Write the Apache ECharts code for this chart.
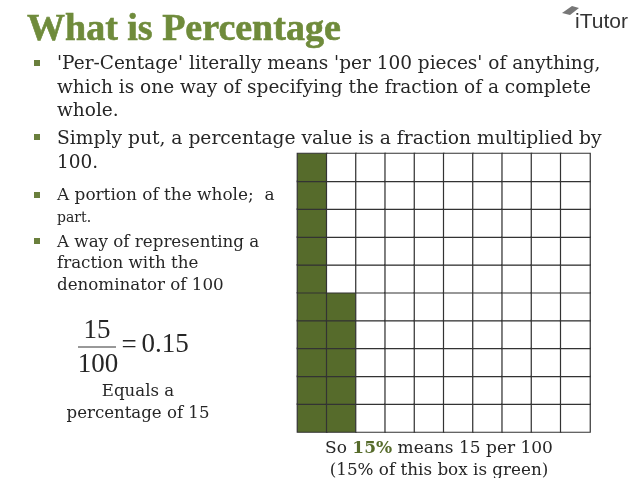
<!DOCTYPE html>
<html>
<head>
	<meta charset="UTF-8">
	<title>What is Percentage</title>
	<script src="https://cdn.jsdelivr.net/npm/echarts@6/dist/echarts.min.js"></script>
	<style>html,body{margin:0;padding:0;background:#fff}</style>
</head>
<body>
	<div id="main" style="width:638px;height:478px;"></div>
	<script type="text/javascript">
		var columns = ['1', '2', '3', '4', '5', '6', '7', '8', '9', '10'];
		var rows = ['1', '2', '3', '4', '5', '6', '7', '8', '9', '10'];
		// how many cells are green in each column, counted from the bottom
		var greenPerColumn = [10, 5, 0, 0, 0, 0, 0, 0, 0, 0];

		var titleText = 'What is Percentage';
		var logoText = 'iTutor';
		var bodyLines = [
			"'Per-Centage' literally means 'per 100 pieces' of anything,",
			'which is one way of specifying the fraction of a complete',
			'whole.',
			'Simply put, a percentage value is a fraction multiplied by',
			'100.'
		];
		var sideLines = ['A portion of the whole;  a', 'part.', 'A way of representing a', 'fraction with the', 'denominator of 100'];
		var equationParts = ['15', '100', '=', '0.15'];
		var equationCaption = ['Equals a', 'percentage of 15'];
		var boxCaption = ['So {b|15%} means 15 per 100', '(15% of this box is green)'];

		var cells = [];
		columns.forEach(function (c, i) {
			rows.forEach(function (r, j) {
				cells.push([i, j, j < greenPerColumn[i] ? 1 : 0]);
			});
		});

		var serif = '"DejaVu Serif"';
		var green = '#566b2b';

		function label(x, y, text, size, extra) {
			var style = { x: x, y: y, text: text, fill: '#262626', font: size + 'px ' + serif, textVerticalAlign: 'middle' };
			for (var k in (extra || {})) style[k] = extra[k];
			return { type: 'text', style: style };
		}
		function bullet(x, y) {
			return { type: 'rect', shape: { x: x, y: y, width: 6, height: 6 }, style: { fill: '#6a7f3c' } };
		}

		var elements = [
			label(27, 30, titleText, 38, { font: 'bold 38px "Liberation Serif", serif', fill: '#6f8b3b', stroke: '#6f8b3b', lineWidth: 0.6, shadowColor: 'rgba(0,0,0,0.3)', shadowBlur: 1, shadowOffsetX: 1, shadowOffsetY: 1 }),
			label(575, 22, logoText, 21, { font: '21px "Liberation Sans"', fill: '#333' }),
			{ type: 'polygon', shape: { points: [[562, 13], [572, 6], [579, 8], [570, 15]] }, style: { fill: '#777' } },
			bullet(34, 60), bullet(34, 134), bullet(34, 192), bullet(34, 238),
			label(57, 64, bodyLines[0], 18.5),
			label(57, 88, bodyLines[1], 18.5),
			label(57, 111, bodyLines[2], 18.5),
			label(57, 139, bodyLines[3], 18.7),
			label(57, 163, bodyLines[4], 18.5),
			label(57, 196, sideLines[0], 16.9),
			label(57, 218, sideLines[1], 14),
			label(57, 243, sideLines[2], 16.7),
			label(57, 264, sideLines[3], 16.7),
			label(57, 286, sideLines[4], 16.7),
			label(97, 331, equationParts[0], 27, { font: '27px "Liberation Serif"', textAlign: 'center' }),
			label(98, 365, equationParts[1], 27, { font: '27px "Liberation Serif"', textAlign: 'center' }),
			label(129, 346, equationParts[2], 27, { font: '27px "Liberation Serif"', textAlign: 'center' }),
			label(165, 345, equationParts[3], 27, { font: '27px "Liberation Serif"', textAlign: 'center' }),
			{ type: 'line', shape: { x1: 78, y1: 347, x2: 116, y2: 347 }, style: { stroke: '#333', lineWidth: 1 } },
			label(138, 392, equationCaption[0], 16.6, { textAlign: 'center' }),
			label(138, 414, equationCaption[1], 16.6, { textAlign: 'center' }),
			{
				type: 'text',
				style: {
					x: 439, y: 449, text: boxCaption[0], fill: '#262626', font: '17px ' + serif, textAlign: 'center', textVerticalAlign: 'middle',
					rich: { b: { font: 'bold 17px ' + serif, fill: green } }
				}
			},
			label(439, 471, boxCaption[1], 16.8, { textAlign: 'center' })
		];

		var myChart = echarts.init(document.getElementById('main'));
		myChart.setOption({
			backgroundColor: '#fff',
			animation: false,
			graphic: { elements: elements },
			grid: { left: 297.5, top: 153.5, width: 292.5, height: 278.5 },
			xAxis: { type: 'category', data: columns, show: false },
			yAxis: { type: 'category', data: rows, show: false },
			visualMap: {
				show: false,
				type: 'piecewise',
				dimension: 2,
				pieces: [{ value: 0, color: '#ffffff' }, { value: 1, color: green }]
			},
			series: [{
				type: 'heatmap',
				data: cells,
				itemStyle: { borderColor: '#333', borderWidth: 1.2 },
				emphasis: { disabled: true }
			}]
		});
	</script>
</body>
</html>
